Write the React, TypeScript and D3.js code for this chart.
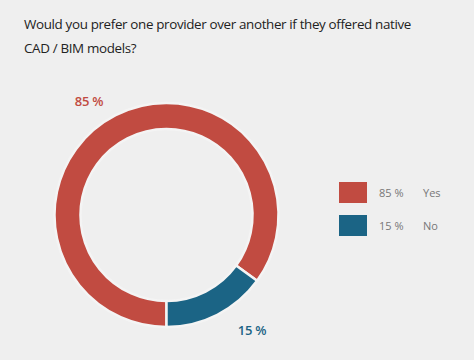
import React from "react";
import * as d3 from "d3";

const categories = ["Yes", "No"];
const values = [85, 15];
const colors = ["#c14b41", "#1b6485"];
const titleLines = [
  "Would you prefer one provider over another if they offered native",
  "CAD / BIM models?",
];

export default function App() {
  const W = 474, H = 360;
  const cx = 166.5, cy = 215, rOuter = 112, rInner = 86;
  const pie = d3.pie<number>().sort(null).startAngle(Math.PI).endAngle(3 * Math.PI);
  const arcs = pie(values);
  const arc = d3.arc<d3.PieArcDatum<number>>().innerRadius(rInner).outerRadius(rOuter);
  const labelPos = [
    { x: 89, y: 106 },
    { x: 252, y: 335 },
  ];
  return (
    <svg width={W} height={H} style={{ position: "absolute", left: 0, top: 0, background: "#efefef" }}>
      <rect width={W} height={H} fill="#efefef" />
      {titleLines.map((t, i) => (
        <text key={i} x={24} y={29 + i * 24} fontFamily="'Open Sans', sans-serif" fontSize={13.4} letterSpacing={-0.35} fontWeight={500} fill="#222">
          {t}
        </text>
      ))}
      <g transform={`translate(${cx},${cy})`}>
        {arcs.map((a, i) => (
          <path key={i} d={arc(a) || ""} fill={colors[i]} stroke="#f4f4f4" strokeWidth={2.5} />
        ))}
      </g>
      {arcs.map((a, i) => (
        <text key={i} x={labelPos[i].x} y={labelPos[i].y} textAnchor="middle" fontFamily="'Open Sans', sans-serif" fontSize={13} fontWeight={600} letterSpacing={-0.3} fill={colors[i]}>
          {values[i]} %
        </text>
      ))}
      {categories.map((c, i) => (
        <g key={c} transform={`translate(339,${182 + i * 33})`}>
          <rect width={28} height={21} fill={colors[i]} />
          <text x={40} y={15} fontFamily="'Open Sans', sans-serif" fontSize={11} fill="#777">{values[i]} %</text>
          <text x={84} y={15} fontFamily="'Open Sans', sans-serif" fontSize={11} fill="#777">{c}</text>
        </g>
      ))}
    </svg>
  );
}
